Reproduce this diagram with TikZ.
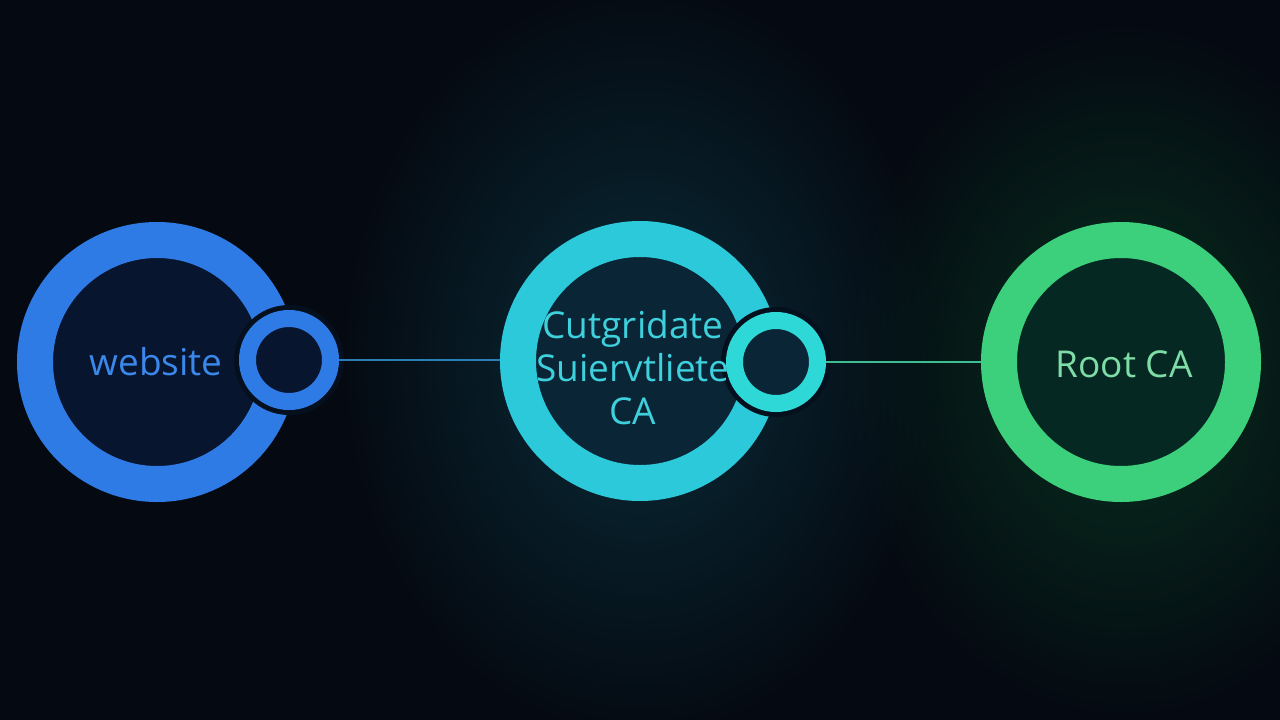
\documentclass[tikz,border=0pt]{standalone}
\usepackage{fontspec}
\setmainfont{Open Sans}
\usetikzlibrary{fadings}
\definecolor{bg}{HTML}{050A12}
\definecolor{blueR}{HTML}{2F7BE6}
\definecolor{blueIn}{HTML}{07152E}
\definecolor{blueTx}{HTML}{3A88EC}
\definecolor{cyanR}{HTML}{2CC9DA}
\definecolor{cyanS}{HTML}{2ED8D6}
\definecolor{cyanIn}{HTML}{0A2636}
\definecolor{cyanTx}{HTML}{3ED0DC}
\definecolor{greenR}{HTML}{3DD07C}
\definecolor{greenIn}{HTML}{062822}
\definecolor{greenTx}{HTML}{7EDCA6}
\definecolor{glowC}{HTML}{0A2C38}
\definecolor{glowG}{HTML}{08301F}
\definecolor{lineB}{HTML}{2A80B4}
\definecolor{lineG}{HTML}{3BBF92}
\definecolor{gapC}{HTML}{05101E}
\tikzfading[name=glowfade, inner color=transparent!0, outer color=transparent!100]
\tikzset{
  bigring/.style={circle, inner sep=0pt, minimum size=244pt, line width=36pt},
  smallring/.style={circle, inner sep=0pt, minimum size=83pt, line width=17pt},
  gapdisc/.style={circle, inner sep=0pt, minimum size=110pt, fill=gapC},
  label/.style={font=\fontsize{37}{43}\selectfont, align=center, inner sep=0pt},
  link/.style={line width=2.2pt}
}
\begin{document}
\begin{tikzpicture}[x=1pt,y=-1pt]
\fill[bg] (0,0) rectangle (1280,720);
\useasboundingbox (0,0) rectangle (1280,720);
% glows
\fill[glowC, path fading=glowfade] (640,360) ellipse (300 and 380);
\fill[glowG, path fading=glowfade] (1125,370) ellipse (280 and 350);
% big rings
\node[bigring, draw=blueR, fill=blueIn] (web) at (157,362) {};
\node[bigring, draw=cyanR, fill=cyanIn] (inter) at (640,361) {};
\node[bigring, draw=greenR, fill=greenIn] (root) at (1121,362) {};
% gaps and small rings
\node[gapdisc] (g1) at (289,360) {};
\node[smallring, draw=blueR, fill=blueIn] (s1) at (289,360) {};
\node[gapdisc] (g2) at (776,362) {};
\node[smallring, draw=cyanS, fill=cyanIn] (s2) at (776,362) {};
% connectors
\draw[link, lineB] (s1.east) -- (inter.west |- s1.east);
\draw[link, lineG] (s2.east) -- (root.west |- s2.east);
% labels
\node[label, text=blueTx] (tweb) at (156,362) {website};
\node[label, text=cyanTx] (tinter) at (633,368) {Cutgridate\\Suiervtliete\\CA};
\node[label, text=greenTx] (troot) at (1124,364) {Root CA};
\end{tikzpicture}
\end{document}
